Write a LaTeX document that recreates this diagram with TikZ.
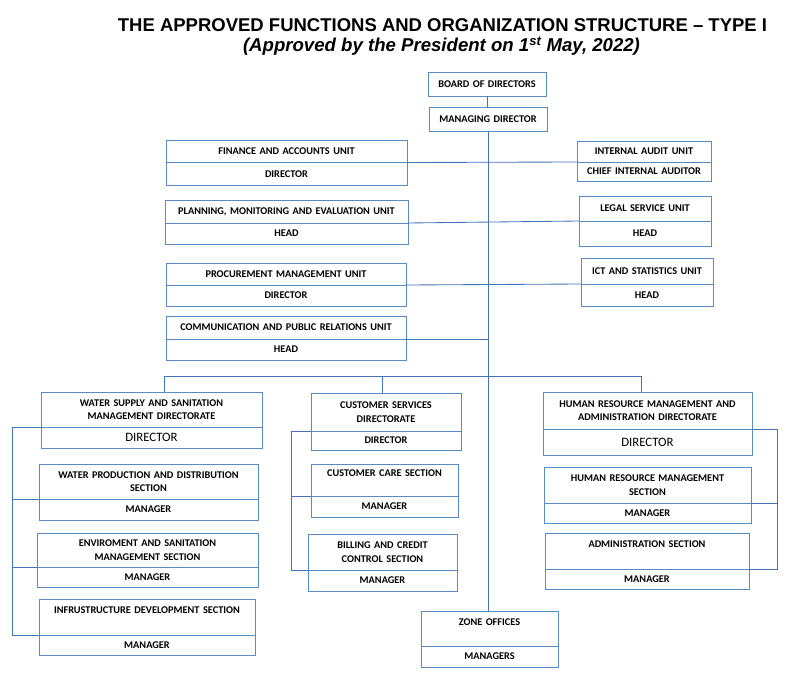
\documentclass[tikz,border=0pt]{standalone}
\usepackage{fontspec}
\setmainfont{Liberation Sans}
\newfontfamily\boxfont{Carlito}
\usepackage{xcolor}
\definecolor{cBox}{HTML}{5A8AC6}
\definecolor{cLine}{HTML}{4372B8}
\usepackage{tikz}
\usetikzlibrary{positioning,calc}
\tikzset{
  unit-top/.style={draw=cBox,line width=0.8pt,inner sep=0pt,outer sep=0pt,
    align=center,anchor=north west,font=\boxfont\bfseries\fontsize{10.3}{13.5}\selectfont},
  unit-head/.style={draw=cBox,line width=0.8pt,inner sep=0pt,outer sep=0pt,
    align=center,font=\boxfont\bfseries\fontsize{10.3}{13.5}\selectfont},
  node-title/.style={anchor=base,inner sep=0pt,font=\bfseries\fontsize{18.5}{20}\selectfont},
  link/.style={draw=cLine,line width=0.85pt},
}
% two-part box: name, x, y, width, top height, head height, title, head
\newcommand{\orgunit}[8]{%
  \node[unit-top,text width=#4pt,minimum height=#5pt] (#1) at (#2,#3) {#7};
  \node[unit-head,text width=#4pt,minimum height=#6pt,below=0pt of #1] (#1-h) {#8};}
\newcommand{\dirtext}{\mdseries\fontsize{12.8}{14}\selectfont DIRECTOR}

\begin{document}
\begin{tikzpicture}[x=1pt,y=-1pt]
  \useasboundingbox (0,0) rectangle (807,677);

  \node[node-title] (title) at (442.5,31.5) {THE APPROVED FUNCTIONS AND ORGANIZATION STRUCTURE -- TYPE I};
  \node[node-title,font=\bfseries\itshape\fontsize{18.6}{20}\selectfont] (subtitle) at (441.5,51.5)
    {(Approved by the President on 1\textsuperscript{st} May, 2022)};

  \node[unit-top,text width=118pt,minimum height=24pt] (bod) at (428,72) {BOARD OF DIRECTORS};
  \node[unit-top,text width=118pt,minimum height=24pt] (md) at (429,107) {MANAGING DIRECTOR};

  % units under the managing director
  \orgunit{fin}{166}{140}{241}{22.5}{22.5}{FINANCE AND ACCOUNTS UNIT}{DIRECTOR}
  \orgunit{plan}{165}{200}{243}{23}{21}{PLANNING, MONITORING AND EVALUATION UNIT}{HEAD}
  \orgunit{proc}{166}{263}{240}{22}{21}{PROCUREMENT MANAGEMENT UNIT}{DIRECTOR}
  \orgunit{comm}{166}{316}{240}{23}{21}{COMMUNICATION AND PUBLIC RELATIONS UNIT}{HEAD}
  \orgunit{audit}{577}{141}{134}{21}{19}{INTERNAL AUDIT UNIT}{CHIEF INTERNAL AUDITOR}
  \orgunit{legal}{579}{196}{132}{25}{25}{LEGAL SERVICE UNIT}{HEAD}
  \orgunit{ict}{581}{258}{132}{26}{22}{ICT AND STATISTICS UNIT}{HEAD}

  % directorates and sections
  \orgunit{wss}{41}{392}{221}{35}{21}{WATER SUPPLY AND SANITATION\\MANAGEMENT DIRECTORATE}{\dirtext}
  \orgunit{wp}{39}{464}{219}{35}{21}{WATER PRODUCTION AND DISTRIBUTION\\SECTION}{MANAGER}
  \orgunit{env}{37}{533}{221}{34}{20}{ENVIROMENT AND SANITATION\\MANAGEMENT SECTION}{MANAGER}
  \orgunit{infr}{39}{599}{216}{36}{20}{INFRUSTRUCTURE DEVELOPMENT SECTION\\\mbox{}}{MANAGER}
  \orgunit{cs}{311}{393}{150}{38}{19}{CUSTOMER SERVICES\\DIRECTORATE}{DIRECTOR}
  \orgunit{care}{311}{464}{147}{32}{21}{CUSTOMER CARE SECTION\\\mbox{}}{MANAGER}
  \orgunit{bill}{308}{534}{149}{36}{21}{BILLING AND CREDIT\\CONTROL SECTION}{MANAGER}
  \orgunit{hrd}{543}{392}{209}{37}{26}{HUMAN RESOURCE MANAGEMENT AND\\ADMINISTRATION DIRECTORATE}{\dirtext}
  \orgunit{hrs}{544}{467}{207}{36}{20}{HUMAN RESOURCE MANAGEMENT\\SECTION}{MANAGER}
  \orgunit{adm}{545}{533}{204}{36}{20}{ADMINISTRATION SECTION\\\mbox{}}{MANAGER}
  \orgunit{zone}{421}{611}{137}{35}{21}{ZONE OFFICES\\\mbox{}}{MANAGERS}

  % trunk and unit links
  \draw[link] (bod) -- (md);
  \draw[link] (md.south) -- (md.south |- zone.north);
  \draw[link] (fin-h.north east) -- (audit-h.north west);
  \draw[link] (plan-h.north east) -- (legal-h.north west);
  \draw[link] (proc-h.north east) -- (ict-h.north west);
  \draw[link] (comm-h.north east) -- (comm-h.north east -| md.south);

  % bus to directorates
  \coordinate (bus-l) at (164,376);
  \coordinate (bus-m) at (382,376);
  \coordinate (bus-r) at (641,376);
  \draw[link] (bus-l) -- (bus-r);
  \draw[link] (bus-l) -- (bus-l |- wss.north);
  \draw[link] (bus-m) -- (bus-m |- cs.north);
  \draw[link] (bus-r) -- (bus-r |- hrd.north);

  % brackets to sections
  \coordinate (br-wss) at (12,0);
  \coordinate (br-cs) at (291,0);
  \coordinate (br-hr) at (777,0);
  \draw[link] (wss-h.north west) -| (br-wss |- infr-h.north west) -- (infr-h.north west);
  \foreach \n in {wp,env}
    \draw[link] (\n-h.north west) -- (br-wss |- \n-h.north west);
  \draw[link] (cs-h.north west) -| (br-cs |- bill-h.north west) -- (bill-h.north west);
  \draw[link] (care-h.north west) -- (br-cs |- care-h.north west);
  \draw[link] (hrd-h.north east) -| (br-hr |- adm-h.north east) -- (adm-h.north east);
  \draw[link] (hrs-h.north east) -- (br-hr |- hrs-h.north east);
\end{tikzpicture}
\end{document}
